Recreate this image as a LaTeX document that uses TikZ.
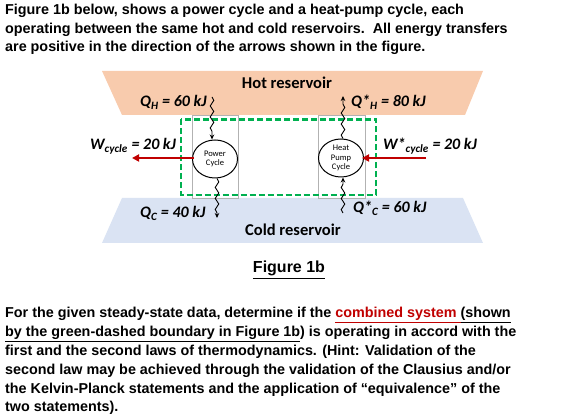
\documentclass[tikz,border=0pt]{standalone}
\usepackage{fontspec}
\setmainfont{Liberation Sans}
\newfontfamily\calib{Carlito}
\usepackage{tikz}
\usetikzlibrary{calc,positioning,arrows.meta,shapes.geometric,decorations.pathmorphing}
\definecolor{hotfill}{RGB}{248,203,173}
\definecolor{coldfill}{RGB}{218,227,243}
\definecolor{bndgreen}{RGB}{0,176,80}
\definecolor{workred}{RGB}{192,0,0}
\def\hird{\textcolor{workred}}
\tikzset{txtline/.style={anchor=base west, inner sep=0pt, font=\fontsize{14.35}{19}\selectfont\bfseries}}
\tikzset{qlabel/.style={anchor=base west, inner sep=0pt, font=\calib\fontsize{16}{18}\selectfont\bfseries\itshape}}
\tikzset{cyclebox/.style={ellipse, draw=black, line width=1pt, minimum width=45pt, minimum height=38pt,
  inner sep=0pt, align=center, font=\calib\fontsize{8.5}{9.8}\selectfont}}
\tikzset{heatflow/.style={-{Stealth[length=5pt,width=4.5pt]}, line width=0.9pt,
  decorate, decoration={snake, amplitude=1.8pt, segment length=11pt, post length=5pt}}}
\tikzset{workflow/.style={-{Triangle[length=7pt,width=7pt]}, draw=workred, line width=2.4pt}}

\begin{document}
\begin{tikzpicture}[x=1pt,y=-1pt]
  \useasboundingbox (0,0) rectangle (574,419);
  % problem statement
  \node[txtline] (t1) at (5,15) {Figure 1b below, shows a power cycle and a heat-pump cycle, each};
  \node[txtline] (t2) at (5,33.5) {operating between the same hot and cold reservoirs.\ \ All energy transfers};
  \node[txtline] (t3) at (5,52) {are positive in the direction of the arrows shown in the figure.};
  % reservoirs
  \fill[hotfill] (102,71) -- (483,71) -- (465,115) -- (122,115) -- cycle;
  \fill[coldfill] (122,198) -- (463,198) -- (483,243) -- (102,243) -- cycle;
  \node[font=\calib\fontsize{16.5}{18}\selectfont\bfseries] (hot) at (287,83) {Hot reservoir};
  \node[font=\calib\fontsize{16.5}{18}\selectfont\bfseries] (cold) at (293,230) {Cold reservoir};
  % thin boxes behind cycles
  \draw[black!30, line width=0.5pt] (192,115) rectangle (238,198);
  \draw[black!30, line width=0.5pt] (318,115) rectangle (365,198);
  % combined system boundary
  \draw[bndgreen, line width=2.2pt, dash pattern=on 6pt off 3pt] (181,119.5) rectangle (376,195);
  % cycles
  \node[cyclebox, fill=white] (pc) at (215,159) {Power\\Cycle};
  \node[cyclebox, fill=white] (hp) at (341,158) {Heat\\Pump\\Cycle};
  % heat transfers
  \coordinate (qhin) at (212,97);
  \coordinate (qcout) at (217,218);
  \coordinate (qhsout) at (343,96);
  \coordinate (qcsin) at (343,213);
  \draw[heatflow] (qhin) -- (pc.north -| qhin);
  \draw[heatflow] (pc.south -| qcout) -- (qcout);
  \draw[heatflow] (hp.north -| qhsout) -- (qhsout);
  \draw[heatflow] (qcsin) -- (hp.south -| qcsin);
  % work transfers
  \coordinate (wout) at (132,158);
  \coordinate (win) at (426,158);
  \draw[workflow] (pc.west |- wout) ++(2,0) -- (wout);
  \draw[workflow] (win) -- ($(hp.east |- win)+(-2,0)$);
  % labels
  \node[qlabel] (lqh) at (140,107) {Q\textsubscript{H} = 60 kJ};
  \node[qlabel] (lqhs) at (351,107) {Q*\textsubscript{H} = 80 kJ};
  \node[qlabel] (lqc) at (140,218) {Q\textsubscript{C} = 40 kJ};
  \node[qlabel] (lqcs) at (353,213) {Q*\textsubscript{C} = 60 kJ};
  \node[qlabel] (lw) at (90,150) {W\textsubscript{cycle} = 20 kJ};
  \node[qlabel] (lws) at (383,150) {W*\textsubscript{cycle} = 20 kJ};
  % caption
  \node[txtline, anchor=base, font=\fontsize{16}{19}\selectfont\bfseries] (cap) at (289,273) {\underline{Figure 1b}};
  % question
  \node[txtline] (b1) at (5,318) {For the given steady-state data, determine if the \hird{\underline{combined system\ }}\underline{(shown}};
  \node[txtline] (b2) at (5,336.8) {\underline{by the green-dashed boundary in Figure 1b}) is operating in accord with the};
  \node[txtline] (b3) at (5,355.6) {first and the second laws of thermodynamics. (Hint: Validation of the};
  \node[txtline] (b4) at (5,374.4) {second law may be achieved through the validation of the Clausius and/or};
  \node[txtline] (b5) at (5,393.2) {the Kelvin-Planck statements and the application of ``equivalence'' of the};
  \node[txtline] (b6) at (5,412) {two statements).};
\end{tikzpicture}
\end{document}
